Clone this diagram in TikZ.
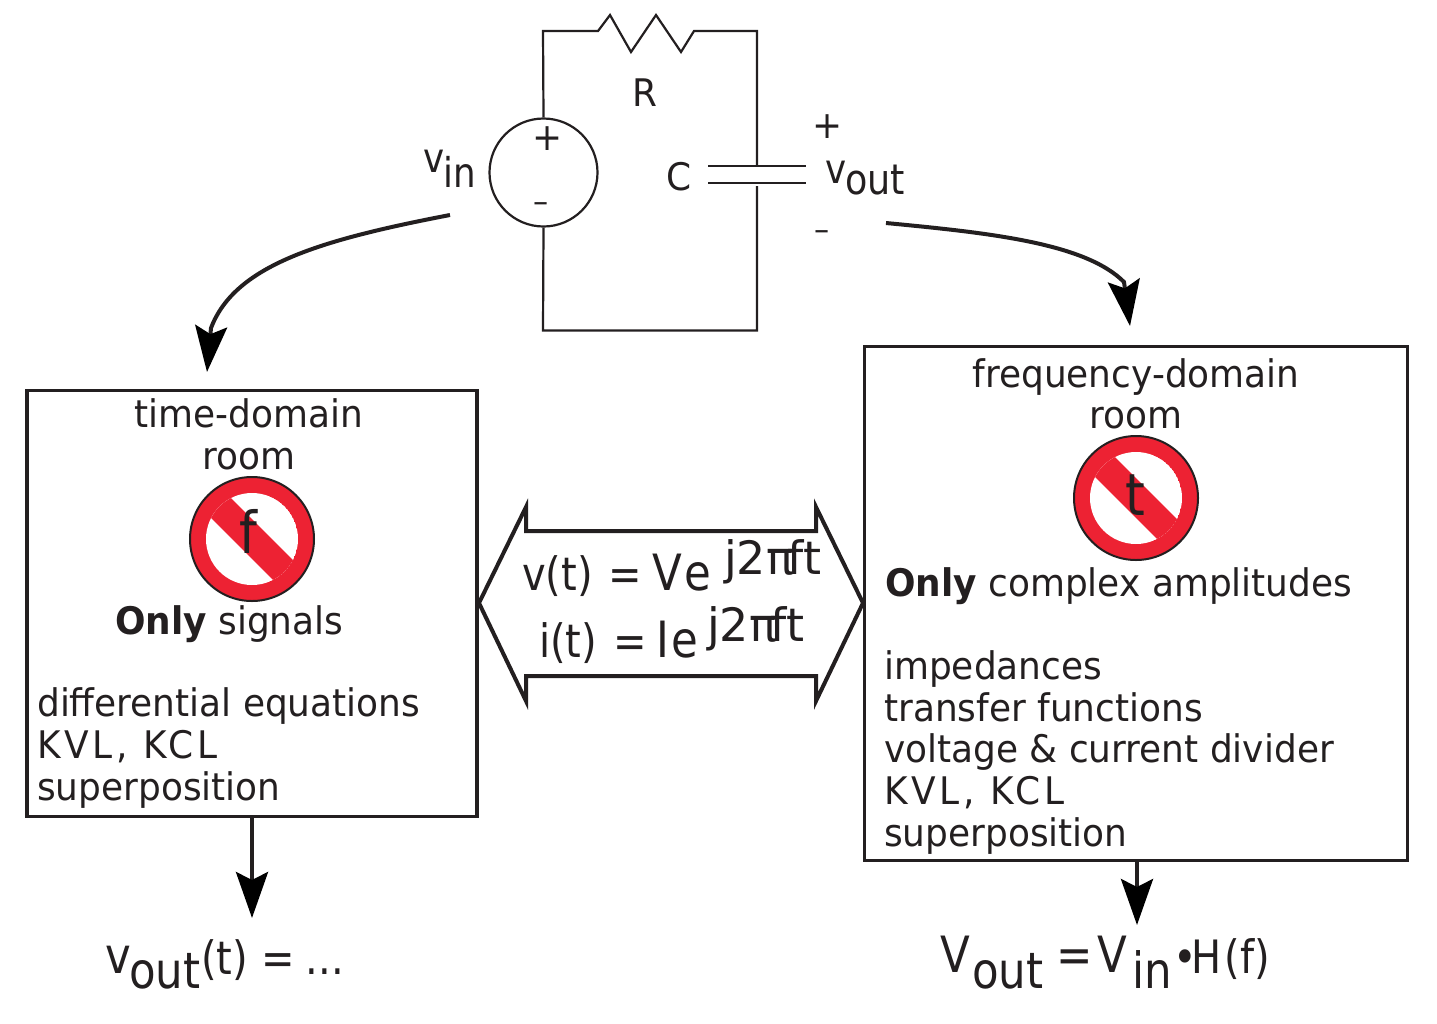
\documentclass[tikz,border=0pt]{standalone}
\usepackage{fontspec}
\setmainfont[FakeStretch=0.945]{DejaVu Sans}
\newfontfamily\narrowf[FakeStretch=0.87]{DejaVu Sans}
\newfontfamily\fullf{DejaVu Sans}
\newfontfamily\spacedf[FakeStretch=0.945,LetterSpace=10]{DejaVu Sans}
\usetikzlibrary{arrows.meta}
\definecolor{ink}{HTML}{231F20}
\definecolor{banred}{HTML}{ED2233}
\tikzset{
 x=1pt,y=-1pt,
 wire/.style={draw=ink,line width=2.2pt},
 room/.style={draw=ink,line width=3.6pt},
 headtip/.style={-{Stealth[length=46pt,width=32pt,inset=8pt,color=black]}},
 flow/.style={draw=ink,line width=4pt,headtip},
 lab/.style={inner sep=0pt,text=ink,font=\fontsize{38}{41.6}\selectfont,anchor=base west},
 big/.style={inner sep=0pt,text=ink,font=\narrowf\fontsize{46}{50}\selectfont,anchor=base west},
 bigsub/.style={inner sep=0pt,text=ink,font=\narrowf\fontsize{50}{54}\selectfont,anchor=base west},
 expo/.style={inner sep=0pt,text=ink,font=\fullf\fontsize{46}{50}\selectfont,anchor=base west},
 sub/.style={inner sep=0pt,text=ink,font=\narrowf\fontsize{41}{44}\selectfont,anchor=base west},
 minuslab/.style={inner sep=0pt,text=ink,font=\fontsize{32}{40}\selectfont,anchor=base west},
 bansym/.style={inner sep=0pt,text=ink,font=\narrowf\fontsize{58}{60}\selectfont,anchor=base},
}
\newcommand{\banSign}[5]{%
 \fill[banred,draw=ink,line width=2pt] (#1,#2) circle (62pt);
 \begin{scope}
 \clip (#1,#2) circle (46pt);
 \fill[white] (#1,#2) circle (46pt);
 \fill[banred,rotate around={-45:(#1,#2)}] (#1-70,#2-14) rectangle (#1+70,#2+14);
 \end{scope}
 \node[bansym] (ban#3) at (#4,#5) {#3};
}
\begin{document}
\begin{tikzpicture}
\useasboundingbox (0,0) rectangle (1437,1023);
% circuit
\node[circle,draw=ink,line width=2.2pt,minimum size=108pt,inner sep=0pt] (src) at (543.5,172.5) {};
\coordinate (rl) at (598,31);
\coordinate (rr) at (694,31);
\coordinate (tl) at (543,31);
\coordinate (tr) at (757,31);
\coordinate (bl) at (543,330.5);
\coordinate (br) at (757,330.5);
\coordinate (ct) at (757,166);
\coordinate (cb) at (757,186);
\draw[wire,line join=miter] (src.north) -- (tl) -- (rl) -- (610,15) -- (631,52) -- (656,15) -- (681,52) -- (rr) -- (tr) -- (ct);
\draw[wire] (src.south) -- (bl) -- (br) -- (cb);
\coordinate (c1l) at (708,166); \coordinate (c1r) at (806,166);
\coordinate (c2l) at (708,183); \coordinate (c2r) at (806,183);
\draw[wire] (c1l) -- (c1r);
\draw[wire] (c2l) -- (c2r);
\node[lab] (rlab) at (632,106) {R};
\node[lab] (clab) at (666,190) {C};
\node[lab] (pin) at (532,150) {+};
\node[minuslab] (min) at (533,212) {–};
\node[lab] (pout) at (812,138) {+};
\node[minuslab] (mout) at (814,240) {–};
\node[sub] (vin) at (423,172.5) {v};
\node[sub] (vinb) at (443,187) {in};
\node[sub] (vout) at (825,183) {v};
\node[sub,font=\narrowf\fontsize{42}{44}\selectfont] (voutb) at (845,194) {out};
% curved flows
\coordinate (fl) at (450,215);
\coordinate (flmid) at (211,328);
\coordinate (flend) at (207,372);
\coordinate (fr) at (886,223);
\coordinate (frmid) at (1124,282);
\coordinate (frend) at (1130,326);
\draw[flow] (fl) .. controls (320,240) and (235,265) .. (flmid) -- (flend);
\draw[flow] (fr) .. controls (990,233) and (1085,243) .. (frmid) -- (frend);
% rooms
\node[room,minimum width=450pt,minimum height=426pt,inner sep=0pt] (troom) at (252,603.5) {};
\node[room,minimum width=543pt,minimum height=514pt,inner sep=0pt] (froom) at (1136,603.5) {};
% room text
\node[lab,anchor=base] (t1) at (249,427) {time-domain};
\node[lab,anchor=base] (t2) at (249,469) {room};
\banSign{252}{539}{f}{248}{553}
\node[lab] (t3) at (115,634) {\textbf{Only} signals};
\node[lab] (t4) at (37,716) {differential equations};
\node[lab,font=\spacedf\fontsize{38}{41.6}\selectfont] (t5) at (37,758) {KVL, KCL};
\node[lab] (t6) at (37,800) {superposition};
\node[lab,anchor=base] (f1) at (1136,387) {frequency-domain};
\node[lab,anchor=base] (f2) at (1136,428) {room};
\banSign{1136}{498}{t}{1135}{515}
\node[lab] (f3) at (885,596) {\textbf{Only} complex amplitudes};
\node[lab] (f4) at (884,679) {impedances};
\node[lab] (f5) at (884,721) {transfer functions};
\node[lab] (f6) at (884,762) {voltage \& current divider};
\node[lab,font=\spacedf\fontsize{38}{41.6}\selectfont] (f7) at (884,804) {KVL, KCL};
\node[lab] (f8) at (884,846) {superposition};
% double arrow
\draw[ink,line width=4pt,miter limit=20] (479,603) -- (526,507) -- (526,531) -- (816,531) -- (816,507) -- (863,603) -- (816,701) -- (816,676) -- (526,676) -- (526,701) -- cycle;
\node[big] (e1) at (522,590) {v(t)\kern16pt=\kern10pt{\fontsize{50}{54}\selectfont V\kern2pt e}};
\node[expo] (e1s) at (724,574) {j2π\kern-6ptft};
\node[big] (e2) at (539,657) {i(t)\kern16pt=\kern10pt{\fontsize{50}{54}\selectfont I\kern2pt e}};
\node[expo] (e2s) at (707,641) {j2π\kern-6ptft};
% down flows
\coordinate (o1) at (252,918);
\coordinate (o2) at (1137,925);
\draw[flow] (troom.south -| o1) -- (o1);
\draw[flow] (froom.south -| o2) -- (o2);
% results
\node[bigsub] (r1) at (105,973) {v};
\node[bigsub] (r2) at (129,988) {out};
\node[big] (r3) at (201,974) {(t)\kern13pt=\kern11pt...};
\node[bigsub] (r4) at (940,972) {V};
\node[bigsub] (r5) at (972,988) {out};
\node[bigsub] (r6) at (1056,972) {=};
\node[bigsub] (r6b) at (1097,972) {V};
\node[bigsub] (r7) at (1132,988) {in};
\node[big] (r8) at (1173,973) {•\kern-5pt H\kern3pt(f)};
\end{tikzpicture}
\end{document}
